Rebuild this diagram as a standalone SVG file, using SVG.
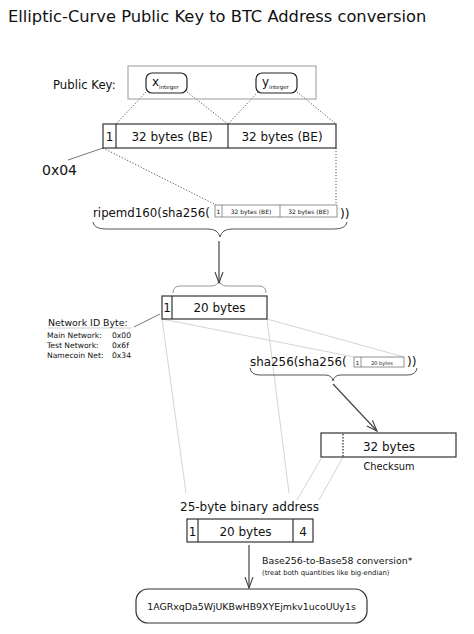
<svg xmlns="http://www.w3.org/2000/svg" width="474" height="634" viewBox="0 0 474 634">
<style>
text{font-family:"DejaVu Sans","Liberation Sans",sans-serif;fill:#111}
.box{fill:#fff;stroke:#333;stroke-width:1.2}
.thin{fill:#fff;stroke:#777;stroke-width:0.8}
.dot{fill:none;stroke:#555;stroke-width:1;stroke-dasharray:1.2,1.8}
.light{fill:none;stroke:#d4d4d4;stroke-width:1}
.brace{fill:none;stroke:#555;stroke-width:1}
.arr{fill:none;stroke:#444;stroke-width:1.2;marker-end:url(#ah)}
.c{text-anchor:middle}
</style>
<defs>
<marker id="ah" viewBox="0 0 12 10" refX="11" refY="5" markerWidth="12" markerHeight="10" markerUnits="userSpaceOnUse" orient="auto">
<path d="M0,1 L11,5 L0,9" fill="none" stroke="#444" stroke-width="1.1"/>
</marker>
</defs>
<text x="8" y="22" font-size="16.3">Elliptic-Curve Public Key to BTC Address conversion</text>

<g id="connectors">
<path class="dot" d="M146,92 L116,124 M187,92 L228,124 M258,92 L228,124 M297,92 L336,124 M103,148 L216,205 M336,148 L336,205"/>
<path d="M68,160 L103,148" fill="none" stroke="#777" stroke-width="1"/>
<path d="M48,328 L132,328" fill="none" stroke="#d0d0d0" stroke-width="1"/>
<path d="M134,327 L160,314" fill="none" stroke="#777" stroke-width="1"/>
<path class="light" d="M162,319 L186,493 M267,319 L289,493 M162,319 L354,357 M267,319 L404,357 M322,457 L297,500 M343,457 L319,500"/>
<path class="brace" d="M93,222 Q94,229 106,229 L208,229 Q218,229 220,237 Q222,229 232,229 L334,229 Q346,229 347,222"/>
<path d="M173,293 Q173,286 180,286 L211,286 Q218,286 219,280 Q220,286 227,286 L259,286 Q266,286 266,293" fill="none" stroke="#999" stroke-width="1"/>
<path class="brace" d="M250,368 Q251,375 260,375 L325,375 Q332,375 333,381 Q334,375 341,375 L407,375 Q416,375 417,368"/>
<path class="arr" d="M219,241 L219,283"/>
<path class="arr" d="M333,384 L377,431"/>
<path class="arr" d="M249,545 L249,588"/>
</g>

<g id="pubkey">
<rect x="128" y="66" width="188" height="33" fill="none" stroke="#999" stroke-width="1"/>
<text x="53" y="89" font-size="11.7">Public Key:</text>
</g>
<g id="xint">
<rect x="146" y="73" width="41" height="20" rx="6" fill="#fff" stroke="#222" stroke-width="1.2"/>
<text x="152" y="86" font-size="12">x<tspan font-size="5.5" dy="3">integer</tspan></text>
</g>
<g id="yint">
<rect x="256" y="73" width="41" height="20" rx="6" fill="#fff" stroke="#222" stroke-width="1.2"/>
<text x="262" y="86" font-size="12">y<tspan font-size="5.5" dy="3">integer</tspan></text>
</g>

<g id="pubkey-bytes">
<rect class="box" x="103" y="124" width="233" height="24"/>
<path d="M116,124 V148 M228,124 V148" stroke="#333" stroke-width="1.2"/>
<text x="109.5" y="141" font-size="12" class="c">1</text>
<text x="172" y="141" font-size="12" class="c">32 bytes (BE)</text>
<text x="282" y="141" font-size="12" class="c">32 bytes (BE)</text>
<text x="42" y="175" font-size="14">0x04</text>
</g>

<g id="ripemd">
<text x="93" y="217" font-size="11.8">ripemd160(sha256(</text>
<rect class="thin" x="215" y="205" width="122" height="12"/>
<path d="M222,205 V217 M280,205 V217" stroke="#777" stroke-width="0.8"/>
<text x="218.5" y="214" font-size="6" class="c">1</text>
<text x="251" y="214" font-size="6" class="c">32 bytes (BE)</text>
<text x="308.5" y="214" font-size="6" class="c">32 bytes (BE)</text>
<text x="340" y="217" font-size="12.3">))</text>
</g>

<g id="hash160">
<rect class="box" x="162" y="296" width="105" height="23"/>
<path d="M172,296 V319" stroke="#333" stroke-width="1.2"/>
<text x="167" y="312" font-size="12" class="c">1</text>
<text x="219.5" y="312" font-size="12" class="c">20 bytes</text>
</g>

<g id="netid">
<text x="48" y="326" font-size="9.4">Network ID Byte:</text>
<text x="47" y="338" font-size="7.6">Main Network:</text>
<text x="112" y="338" font-size="7.6">0x00</text>
<text x="47" y="348" font-size="7.6">Test Network:</text>
<text x="112" y="348" font-size="7.6">0x6f</text>
<text x="47" y="358" font-size="7.6">Namecoin Net:</text>
<text x="112" y="358" font-size="7.6">0x34</text>
</g>

<g id="sha">
<text x="250" y="366" font-size="11.9">sha256(sha256(</text>
<rect class="thin" x="354" y="357" width="50" height="10"/>
<path d="M361,357 V367" stroke="#777" stroke-width="0.8"/>
<text x="357.5" y="364.5" font-size="5.5" class="c">1</text>
<text x="382" y="364.5" font-size="5" class="c">20 bytes</text>
<text x="407" y="366" font-size="12.2">))</text>
</g>

<g id="checksum">
<rect class="box" x="321" y="433" width="135" height="24"/>
<path d="M343,434 V457" stroke="#333" stroke-width="1.3" stroke-dasharray="1.5,1.5"/>
<text x="389" y="451" font-size="12" class="c">32 bytes</text>
<text x="389" y="470" font-size="9.8" class="c">Checksum</text>
</g>

<g id="binaddr">
<text x="180" y="511" font-size="12">25-byte binary address</text>
<rect class="box" x="187" y="519" width="126" height="23"/>
<path d="M198,519 V542 M293,519 V542" stroke="#333" stroke-width="1.2"/>
<text x="192.5" y="536" font-size="12" class="c">1</text>
<text x="245.5" y="536" font-size="12" class="c">20 bytes</text>
<text x="303" y="536" font-size="12" class="c">4</text>
<text x="262" y="564" font-size="9.4">Base256-to-Base58 conversion*</text>
<text x="262" y="575" font-size="6.8">(treat both quantities like big-endian)</text>
</g>

<g id="address">
<rect x="136" y="589" width="231" height="34" rx="12" fill="#fff" stroke="#333" stroke-width="1.2"/>
<text x="251.5" y="610" font-size="9.4" class="c">1AGRxqDa5WjUKBwHB9XYEjmkv1ucoUUy1s</text>
</g>
</svg>
